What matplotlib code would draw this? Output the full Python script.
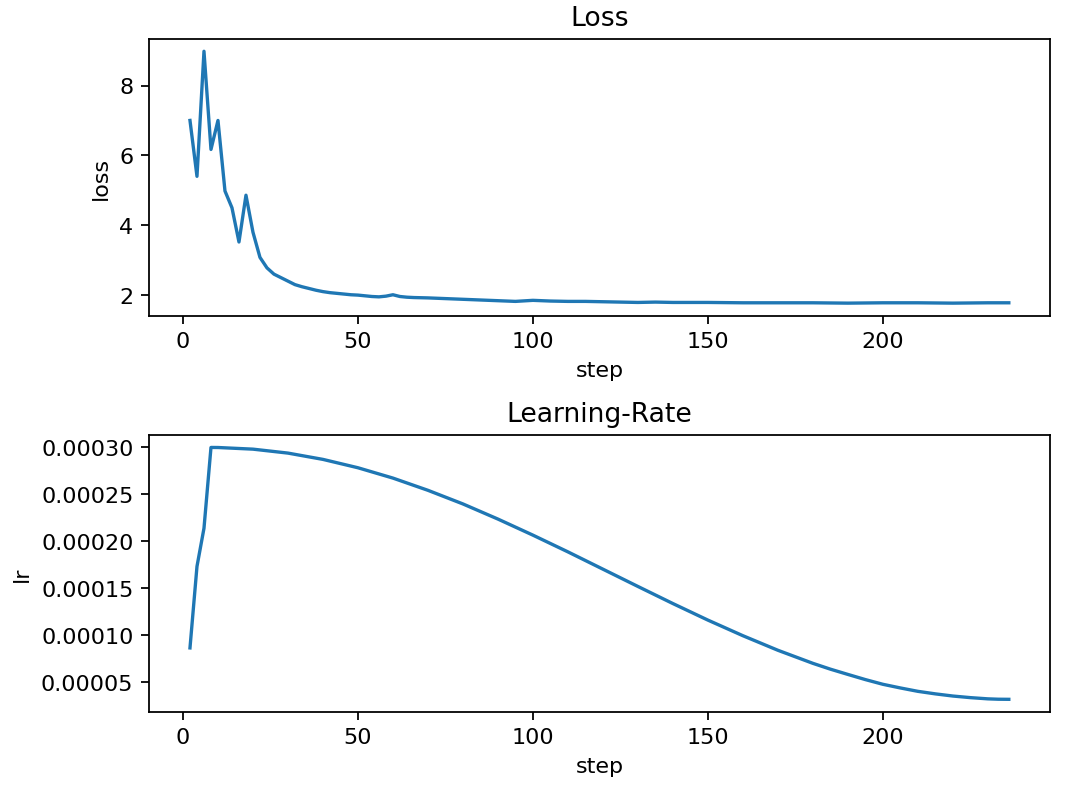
import matplotlib
matplotlib.use("Agg")
from matplotlib import pyplot as plt

# loss curve
loss_step = [2, 4, 6, 8, 10, 12, 14, 16, 18, 20, 22, 24, 26, 28, 30, 32, 34, 36, 38, 40,
             42, 44, 46, 48, 50, 52, 54, 56, 58, 60, 62, 64, 66, 70, 75, 80, 85, 90, 95,
             100, 105, 110, 115, 120, 125, 130, 135, 140, 145, 150, 160, 170, 180, 190,
             200, 210, 220, 230, 236]
loss = [7.0, 5.4, 8.98, 6.17, 7.0, 4.98, 4.5, 3.52, 4.86, 3.8, 3.08, 2.78, 2.6, 2.5, 2.4,
        2.3, 2.24, 2.19, 2.14, 2.1, 2.07, 2.05, 2.03, 2.01, 2.0, 1.98, 1.96, 1.95, 1.97,
        2.01, 1.96, 1.94, 1.93, 1.92, 1.9, 1.88, 1.86, 1.84, 1.82, 1.85, 1.83, 1.82, 1.82,
        1.81, 1.8, 1.79, 1.8, 1.79, 1.79, 1.79, 1.78, 1.78, 1.78, 1.77, 1.78, 1.78, 1.77,
        1.78, 1.78]

# learning rate curve
lr_step = [2, 4, 6, 8, 10, 20, 30, 40, 50, 60, 70, 80, 90, 100, 110, 120, 130, 140, 150,
           160, 170, 180, 185, 190, 195, 200, 205, 210, 215, 220, 225, 230, 233, 236]
lr = [0.0000867, 0.0001734, 0.000214, 0.0003, 0.00029995, 0.0002982, 0.000294, 0.0002873,
      0.0002784, 0.0002674, 0.0002544, 0.0002399, 0.0002238, 0.0002067, 0.0001889,
      0.0001705, 0.0001521, 0.0001339, 0.0001163, 0.0000997, 0.0000842, 0.0000703,
      0.0000641, 0.0000585, 0.000053, 0.000048, 0.0000441, 0.0000405, 0.0000378,
      0.0000355, 0.0000338, 0.0000325, 0.0000321, 0.000032]

fig, (ax1, ax2) = plt.subplots(2, 1, figsize=(6.75, 4.956), dpi=160)
fig.subplots_adjust(left=0.138, right=0.972, top=0.95, bottom=0.101, hspace=0.43)

ax1.plot(loss_step, loss, "-")
ax1.set_title("Loss")
ax1.set_xlabel("step")
ax1.set_ylabel("loss")

ax2.plot(lr_step, lr, "-")
ax2.set_title("Learning-Rate")
ax2.set_xlabel("step")
ax2.set_ylabel("lr")

fig.savefig("out.png", dpi=160)
